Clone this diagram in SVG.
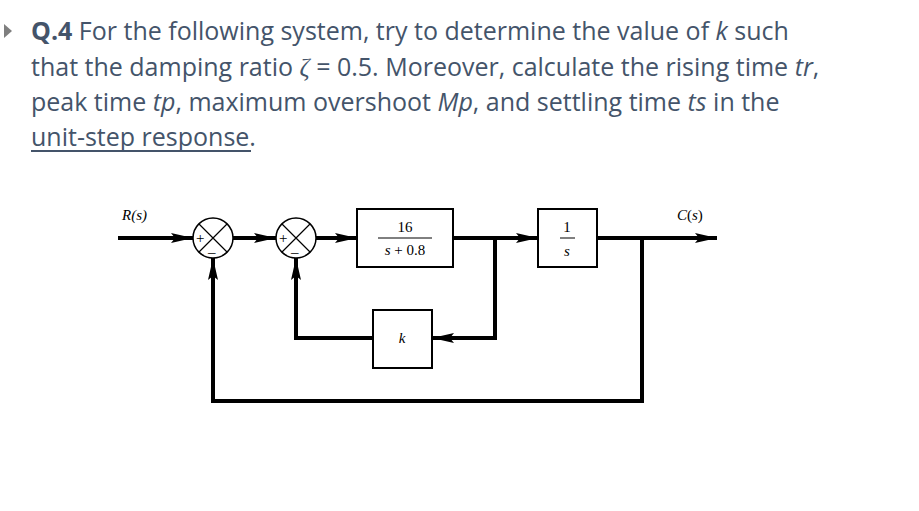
<svg xmlns="http://www.w3.org/2000/svg" width="919" height="511" viewBox="0 0 919 511">
<defs>
<marker id="a" markerWidth="8" markerHeight="6" refX="8" refY="3" orient="auto" markerUnits="userSpaceOnUse" viewBox="0 0 8 6"><path d="M0,0 L8,3 L0,6 z" fill="#000"/></marker>
<marker id="b" markerWidth="22" markerHeight="10" refX="22" refY="5" orient="auto" markerUnits="userSpaceOnUse"><path d="M0,0 L22,5 L0,10 L4,5 z" fill="#000"/></marker>
</defs>
<style>
.q{font-family:"Open Sans","Noto Sans",sans-serif;font-size:25px;fill:#44546a}
.m{font-family:"Liberation Serif",serif;font-size:15px;fill:#000}
.ln{fill:none;stroke:#000;stroke-width:4}
.bx{fill:#fff;stroke:#000;stroke-width:2}
.sj{fill:#fff;stroke:#000;stroke-width:1.5}
</style>
<path d="M4,24 L12,31 L4,38 z" fill="#7f7f7f"/>
<text class="q" x="31" y="40"><tspan font-weight="bold">Q.4</tspan> For the following system, try to determine the value of <tspan font-style="italic">k</tspan> such</text>
<text class="q" x="31" y="76">that the damping ratio <tspan font-family="Liberation Serif" font-style="italic">ζ</tspan> = 0.5. Moreover, calculate the rising time <tspan font-style="italic">tr</tspan>,</text>
<text class="q" x="31" y="111">peak time <tspan font-style="italic">tp</tspan>, maximum overshoot <tspan font-style="italic">Mp</tspan>, and settling time <tspan font-style="italic">ts</tspan> in the</text>
<text class="q" x="31" y="146">unit-step response.</text>
<line x1="31" y1="151" x2="251" y2="151" stroke="#44546a" stroke-width="2"/>
<g id="connectors">
<line class="ln" x1="118" y1="238" x2="193" y2="238" marker-end="url(#b)"/>
<line class="ln" x1="233" y1="238" x2="276" y2="238" marker-end="url(#b)"/>
<line class="ln" x1="316" y1="238" x2="357" y2="238" marker-end="url(#b)"/>
<line class="ln" x1="453" y1="238" x2="538" y2="238" marker-end="url(#b)"/>
<line class="ln" x1="597" y1="238" x2="717" y2="238" marker-end="url(#b)"/>
<polyline class="ln" points="495,238 495,338 432,338" marker-end="url(#b)"/>
<polyline class="ln" points="373,338 296,338 296,258" marker-end="url(#b)"/>
<polyline class="ln" points="642,238 642,401 213,401 213,258" marker-end="url(#b)"/>
</g>
<text class="m" x="122" y="220" font-style="italic">R(s)</text>
<text class="m" x="677" y="220"><tspan font-style="italic">C</tspan>(<tspan font-style="italic">s</tspan>)</text>
<g id="sum1"><circle class="sj" cx="213" cy="238" r="20"/><path d="M199,224 L227,252 M227,224 L199,252" stroke="#000" stroke-width="1.2"/><text class="m" x="196" y="243" font-size="13">+</text><text class="m" x="208" y="257" font-size="13">–</text></g>
<g id="sum2"><circle class="sj" cx="296" cy="238" r="20"/><path d="M282,224 L310,252 M310,224 L282,252" stroke="#000" stroke-width="1.2"/><text class="m" x="279" y="243" font-size="13">+</text><text class="m" x="291" y="257" font-size="13">–</text></g>
<g id="g1"><rect class="bx" x="357" y="209" width="96" height="58"/><text class="m" x="405" y="232" text-anchor="middle">16</text><line x1="378" y1="238" x2="432" y2="238" stroke="#000" stroke-width="1"/><text class="m" x="405" y="255" text-anchor="middle"><tspan font-style="italic">s</tspan>  + 0.8</text></g>
<g id="g2"><rect class="bx" x="538" y="209" width="59" height="58"/><text class="m" x="567" y="232" text-anchor="middle">1</text><line x1="560" y1="238" x2="575" y2="238" stroke="#000" stroke-width="1"/><text class="m" x="567" y="256" text-anchor="middle" font-style="italic">s</text></g>
<g id="k"><rect class="bx" x="373" y="310" width="59" height="58"/><text class="m" x="402" y="343" text-anchor="middle" font-style="italic">k</text></g>
</svg>
